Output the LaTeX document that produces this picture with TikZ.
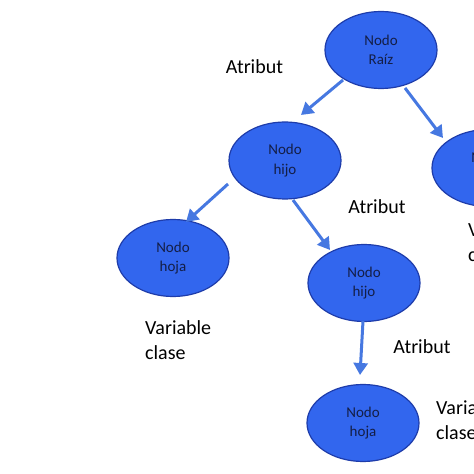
\documentclass[tikz,border=0pt]{standalone}
\usepackage{fontspec}
\setmainfont{Carlito}
\usetikzlibrary{arrows.meta,calc,shapes.geometric}
\definecolor{nodefill}{RGB}{50,102,238}
\definecolor{nodeline}{RGB}{30,60,170}
\definecolor{arrowcol}{RGB}{70,120,225}
\definecolor{nodetext}{RGB}{20,30,70}
\begin{document}
\begin{tikzpicture}[x=1pt,y=1pt,
  treenode/.style={ellipse,draw=nodeline,line width=1.2pt,fill=nodefill,
    minimum width=112pt,minimum height=77pt,inner sep=0pt,align=center,
    text=nodetext,font=\fontsize{15}{19.5}\selectfont},
  lbl/.style={anchor=west,align=left,inner sep=0pt,text=black,
    font=\fontsize{20}{25}\selectfont},
  attr/.style={anchor=center,inner sep=0pt,text=black,
    font=\fontsize{20}{25}\selectfont},
  arr/.style={draw=arrowcol,line width=3pt,
    -{Triangle[length=12pt,width=14pt]}}]
\useasboundingbox (0,0) rectangle (474,474);
\clip (0,0) rectangle (474,474);
\fill[white] (0,0) rectangle (474,474);
% nodes
\node[treenode] (root)  at (381,424)   {Nodo\\Raíz};
\node[treenode] (hijo1) at (285,313.5) {Nodo\\hijo};
\node[treenode] (right) at (488,306)   {Nodo\\hijo};
\node[treenode] (hojaL) at (173,216)   {Nodo\\hoja};
\node[treenode] (hijo2) at (364,191)   {Nodo\\hijo};
\node[treenode] (hojaB) at (363,51)    {Nodo\\hoja};
% labels
\node[attr] (at1) at (254.5,407) {Atribut};
\node[attr] (at2) at (377,267) {Atribut};
\node[attr] (at3) at (422,127) {Atribut};
\node[lbl] (vc1) at (145,133.5) {Variable\\clase};
\node[lbl] (vc2) at (436,53.5) {Variable\\clase};
\node[lbl] (vc3) at (468,231.5) {Variable\\clase};
% connectors
\draw[arr] ($(root.center)+(-38,-30)$) -- ($(hijo1.center)+(16,45.5)$);
\draw[arr] ($(root.center)+(24,-38)$) -- ($(right.center)+(-45,30)$);
\draw[arr] ($(hijo1.center)+(-57,-23.5)$) -- ($(hojaL.center)+(13,36)$);
\draw[arr] ($(hijo1.center)+(8,-39.5)$) -- ($(hijo2.center)+(-34,33)$);
\draw[arr] ($(hijo2.center)+(-1,-38)$) -- ($(hojaB.center)+(-3,48)$);
\end{tikzpicture}
\end{document}
